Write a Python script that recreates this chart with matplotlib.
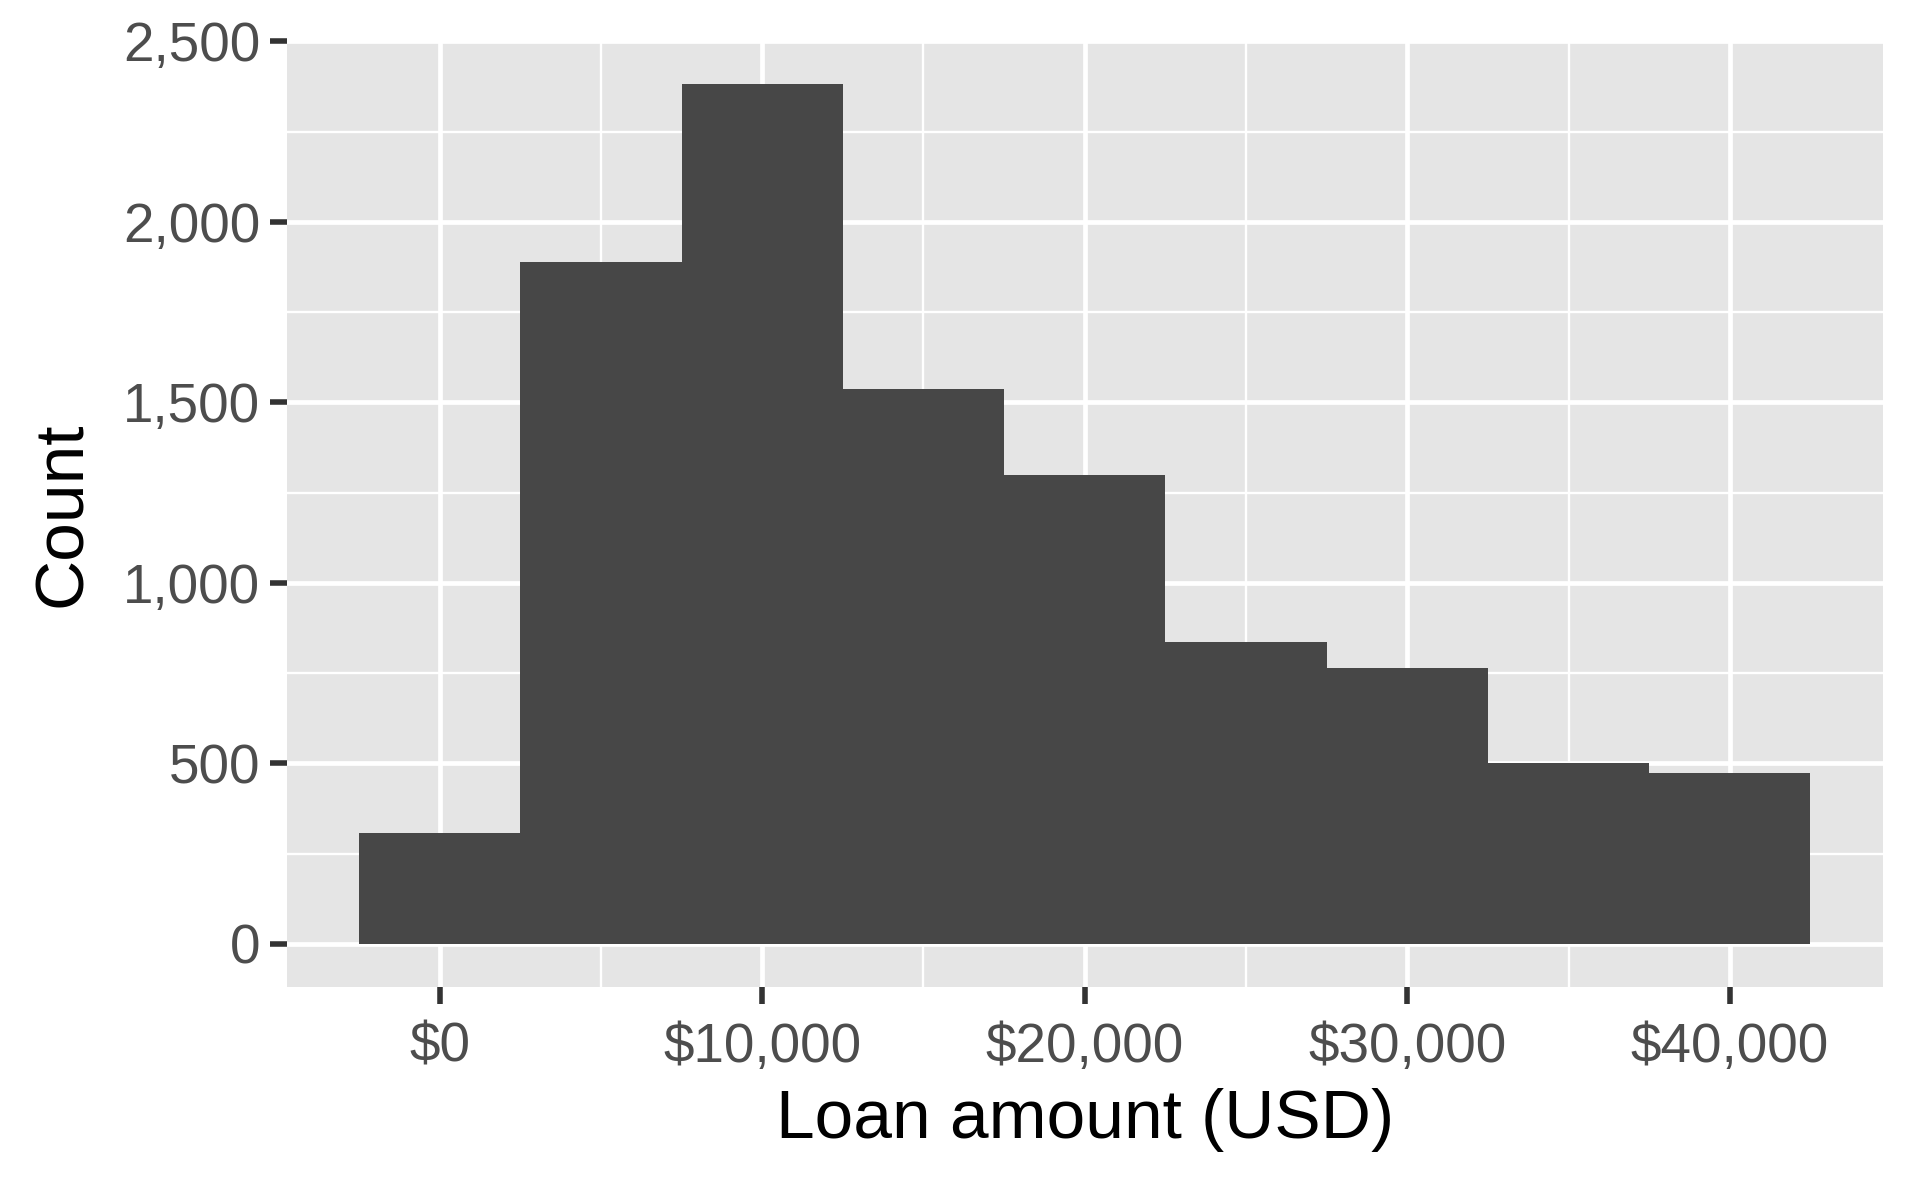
import numpy as np
import matplotlib
matplotlib.use("Agg")
import matplotlib.pyplot as plt
from matplotlib.ticker import FuncFormatter, MultipleLocator

# histogram bins (centres) and counts
bin_centers = [0, 5000, 10000, 15000, 20000, 25000, 30000, 35000, 40000]
counts = [308, 1889, 2382, 1538, 1298, 837, 764, 500, 473]
bin_width = 5000

x_ticks = [0, 10000, 20000, 30000, 40000]
y_ticks = [0, 500, 1000, 1500, 2000, 2500]

plt.rcParams['font.family'] = ['Liberation Sans', 'DejaVu Sans']

fig = plt.figure(figsize=(19.2, 11.86), dpi=100)
ax = fig.add_axes([286.5/1920, 1-987/1186, (1883-286.5)/1920, (987-41)/1186])

ax.set_facecolor('#E5E5E5')
ax.bar(bin_centers, counts, width=bin_width, color='#474747', linewidth=0, zorder=3)

# ggplot-like expansion
lo, hi = bin_centers[0]-bin_width/2, bin_centers[-1]+bin_width/2
ax.set_xlim(lo-0.05*(hi-lo), hi+0.05*(hi-lo))
ymax = max(counts)
ax.set_ylim(-0.05*ymax, ymax*1.05)

ax.set_xticks(x_ticks)
ax.set_yticks(y_ticks)
ax.xaxis.set_minor_locator(MultipleLocator(5000))
ax.yaxis.set_minor_locator(MultipleLocator(250))
ax.xaxis.set_major_formatter(FuncFormatter(lambda v, p: '${:,.0f}'.format(v)))
ax.yaxis.set_major_formatter(FuncFormatter(lambda v, p: '{:,.0f}'.format(v)))

ax.grid(which='major', color='white', linewidth=3.4, zorder=1)
ax.grid(which='minor', color='white', linewidth=1.7, zorder=1)
ax.set_axisbelow(True)
for s in ax.spines.values():
    s.set_visible(False)

ax.tick_params(which='major', length=12, width=4, color='#333333',
               labelsize=39.5, labelcolor='#4D4D4D', pad=7)
ax.tick_params(axis='x', which='major', pad=13)
ax.tick_params(which='minor', length=0)

ax.set_xlabel('Loan amount (USD)', fontsize=50, color='black', labelpad=10)
ax.set_ylabel('Count', fontsize=50, color='black', labelpad=20)

fig.savefig('out.png', dpi=100, facecolor='white')
